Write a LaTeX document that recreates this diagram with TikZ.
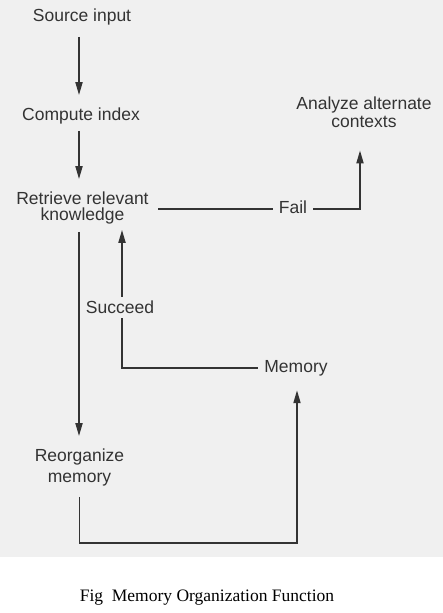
\documentclass[tikz,border=0pt]{standalone}
\usepackage{fontspec}
\setmainfont{Liberation Serif}
\setsansfont{Liberation Sans}
\usetikzlibrary{arrows.meta}
\definecolor{ink}{HTML}{333333}
\definecolor{paper}{HTML}{F0F0F0}
\tikzset{
  lbl/.style={inner sep=0pt, anchor=base, text=ink, font=\sffamily\fontsize{17.5}{16}\selectfont, align=center},
  mid/.style={lbl, text height=8pt, text depth=0pt, inner xsep=6pt},
  conn/.style={draw=ink, line width=1.8pt},
  arr/.style={conn, -{Triangle[length=13pt,width=7pt]}},
}
\begin{document}
\begin{tikzpicture}[x=1pt,y=-1pt]
\useasboundingbox (0,0) rectangle (443,613);
\fill[paper] (0,0) rectangle (443,557);
% nodes
\node[lbl] (src) at (82,21) {Source input};
\node[lbl] (idx) at (81,120) {Compute index};
\node[lbl] (ret) at (82.5,220) {Retrieve relevant\\knowledge};
\node[mid] (fail) at (293,213) {Fail};
\node[lbl, font=\sffamily\fontsize{17.5}{18}\selectfont] (ana) at (364,127) {Analyze alternate\\contexts};
\node[mid, inner xsep=0pt] (succ) at (120,313) {Succeed};
\node[mid] (mem) at (296,372) {Memory};
\node[lbl, font=\sffamily\fontsize{17.5}{21}\selectfont] (reorg) at (79.5,482) {Reorganize\\memory};
\coordinate (bot) at (79,543);
\node[inner sep=0pt, anchor=base, text=black, font=\rmfamily\fontsize{17.5}{20}\selectfont] (cap) at (207,601) {Fig\ \ Memory Organization Function};
% connectors
\draw[arr, shorten <=12pt, shorten >=12pt] ([xshift=-3pt]src.south) -- ([xshift=-3pt]src.south |- idx.north);
\draw[arr, shorten <=7pt, shorten >=12pt] ([xshift=-2pt]idx.south) -- ([xshift=-2pt]idx.south |- ret.north);
\draw[conn, shorten >=9pt] (fail.west) -- (fail.west -| ret.east);
\draw[arr, shorten >=23pt] (fail.east) -| ([xshift=-4pt]ana.south);
\draw[arr, shorten <=8pt, shorten >=12pt] ([xshift=-3.5pt]ret.south) -- ([xshift=-3.5pt]ret.south |- reorg.north);
\draw[arr, shorten <=8pt, shorten >=6pt] ([xshift=2pt]succ.north) -- ([xshift=2pt]succ.north |- ret.south);
\draw[conn, shorten <=5pt] ([xshift=2pt]succ.south) |- (mem.west);
\draw[arr, shorten <=11pt, shorten >=18pt] (reorg.south) -- (reorg.south |- bot) -| ([xshift=1pt]mem.south);
\end{tikzpicture}
\end{document}
